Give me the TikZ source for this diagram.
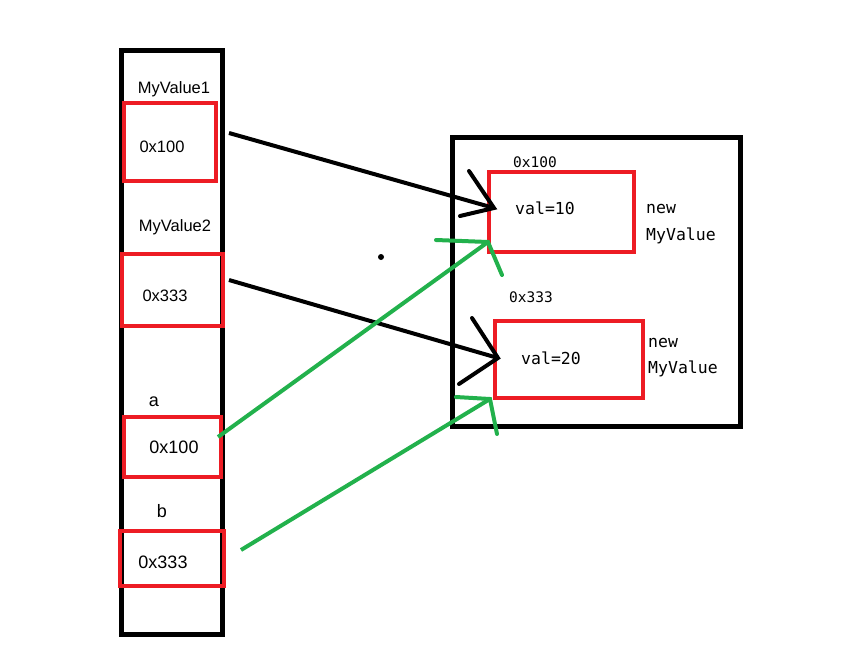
\documentclass[tikz,border=0pt]{standalone}
\usepackage{fontspec}
\setmainfont{Liberation Sans}
\newfontfamily\monofont{DejaVu Sans Mono}
\definecolor{pred}{RGB}{237,28,36}
\definecolor{pgreen}{RGB}{34,177,76}
\begin{document}
\begin{tikzpicture}[x=1pt,y=-1pt,
  frame/.style={draw=black,line width=5pt},
  redbox/.style={draw=pred,line width=4pt},
  lbl/.style={font=\fontsize{16.5}{16.5}\selectfont,inner sep=0pt},
  biglbl/.style={font=\fontsize{18}{18}\selectfont,inner sep=0pt},
  mono/.style={font=\monofont\fontsize{16.5}{16.5}\selectfont,inner sep=0pt},
  smono/.style={font=\monofont\fontsize{14.5}{14.5}\selectfont,inner sep=0pt},
  blk/.style={draw=black,line width=4pt},
  grn/.style={draw=pgreen,line width=4pt}]
\useasboundingbox (0,0) rectangle (859,662);
% frames
\draw[frame] (121,50) rectangle (222,634);
\draw[frame] (452,137) rectangle (740,426);
% red boxes left
\draw[redbox] (124,103) rectangle (216,181);
\draw[redbox] (122,254) rectangle (223,326);
\draw[redbox] (124,417) rectangle (221,477);
\draw[redbox] (120,531) rectangle (224,586);
% red boxes right
\draw[redbox] (489,172) rectangle (634,252);
\draw[redbox] (495,321) rectangle (643,398);
% texts left
\node[lbl] (mv1) at (174,89) {MyValue1};
\node[lbl] (p1) at (162,147) {0x100};
\node[lbl] (mv2) at (175,227) {MyValue2};
\node[lbl] (p2) at (165,296) {0x333};
\node[biglbl] (la) at (154,402) {a};
\node[biglbl] (pa) at (174,447) {0x100};
\node[biglbl] (lb) at (162,511) {b};
\node[biglbl] (pb) at (163,562) {0x333};
% texts right
\node[smono] (h1) at (535,162) {0x100};
\node[mono] (v1) at (545,208) {val=10};
\node[mono,anchor=west] (n1) at (646,209) {new};
\node[mono,anchor=west] (m1) at (646,236) {MyValue};
\node[smono] (h2) at (531,297) {0x333};
\node[mono] (v2) at (551,358) {val=20};
\node[mono,anchor=west] (n2) at (648,343) {new};
\node[mono,anchor=west] (m2) at (648,369) {MyValue};
% dot
\fill (381,257) circle (3);
% arrow coordinates
\coordinate (s1) at (229,133);
\coordinate (t1) at (494,208);
\coordinate (s2) at (229,280);
\coordinate (t2) at (498,358);
\coordinate (s3) at (218,437);
\coordinate (t3) at (488,242);
\coordinate (s4) at (241,550);
\coordinate (t4) at (490,399);
% black arrows
\draw[blk] (s1) -- (t1);
\draw[blk,line cap=round] (469,171) -- (t1) -- (460,216);
\draw[blk] (s2) -- (t2);
\draw[blk,line cap=round] (472,318) -- (t2) -- (459,384);
% green arrows
\draw[grn] (s3) -- (t3);
\draw[grn,line cap=round] (436,240) -- (t3) -- (502,275);
\draw[grn] (s4) -- (t4);
\draw[grn,line cap=round] (456,397) -- (t4) -- (497,434);
\end{tikzpicture}
\end{document}
